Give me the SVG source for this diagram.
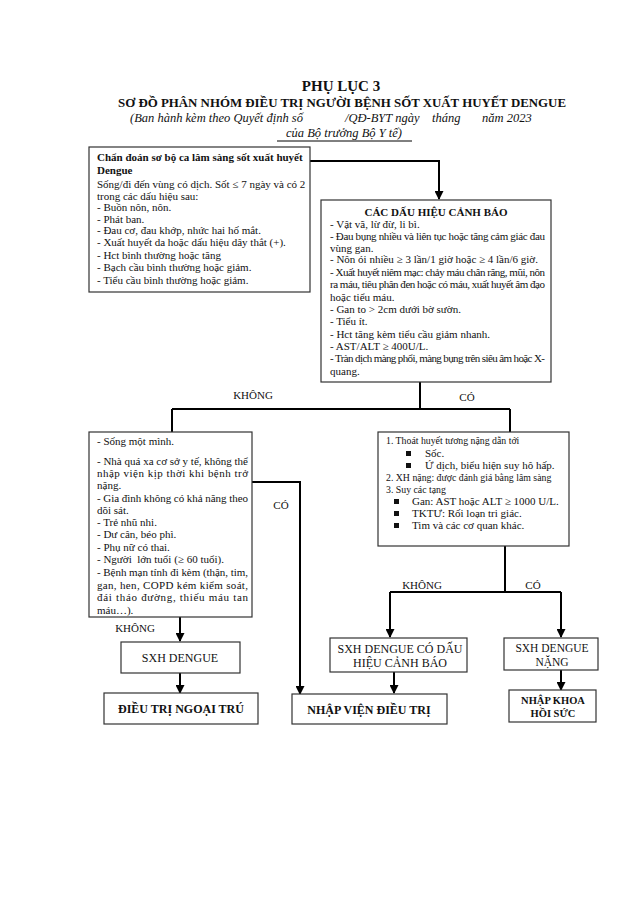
<svg xmlns="http://www.w3.org/2000/svg" width="638" height="902" viewBox="0 0 638 902">
<defs>
<marker id="ah" markerWidth="9" markerHeight="9" refX="8" refY="4.5" orient="auto" markerUnits="userSpaceOnUse">
<path d="M0,0 L9,4.5 L0,9 Z" fill="#000"/>
</marker>
<style>
text{font-family:"Liberation Serif","Times New Roman",serif;fill:#111;}
.t{font-size:11px;}
.m{font-size:12px;}
.s{font-size:9.8px;}
.b{font-weight:bold;}
.c{text-anchor:middle;}
.box{fill:#fff;stroke:#333;stroke-width:1.2;}
.con{fill:none;stroke:#000;stroke-width:2;}
.arr{fill:none;stroke:#000;stroke-width:2;marker-end:url(#ah);}
.lbl{font-size:11px;}
</style>
</defs>
<rect width="638" height="902" fill="#fff"/>
<g id="header">
<text x="341" y="91" class="b c" font-size="15">PHỤ LỤC 3</text>
<text x="342" y="107" class="b c" font-size="13" textLength="448" lengthAdjust="spacingAndGlyphs">SƠ ĐỒ PHÂN NHÓM ĐIỀU TRỊ NGƯỜI BỆNH SỐT XUẤT HUYẾT DENGUE</text>
<text x="130" y="122" font-size="12.5" font-style="italic">(Ban hành kèm theo Quyết định số</text>
<text x="345" y="122" font-size="12.5" font-style="italic">/QĐ-BYT ngày</text>
<text x="432" y="122" font-size="12.5" font-style="italic">tháng</text>
<text x="482" y="122" font-size="12.5" font-style="italic">năm 2023</text>
<text x="344" y="137" class="c" font-size="12.5" font-style="italic">của Bộ trưởng Bộ Y tế)</text>
<line x1="277" y1="141" x2="412" y2="141" stroke="#000" stroke-width="1"/>
</g>
<g id="connectors">
<path class="arr" d="M310,161 H439 V199"/>
<path class="con" d="M420,382 V409"/>
<path class="con" d="M172,409 H510"/>
<path class="con" d="M172,409 V432"/>
<path class="con" d="M510,409 V432"/>
<path class="arr" d="M252,482 H300 V694"/>
<path class="arr" d="M180,617 V641"/>
<path class="arr" d="M180,673 V693"/>
<path class="con" d="M505,546 V592"/>
<path class="con" d="M390,592 H561"/>
<path class="arr" d="M390,592 V637"/>
<path class="arr" d="M561,592 V637"/>
<path class="arr" d="M394,672 V693"/>
<path class="arr" d="M561,670 V690"/>
</g>
<g id="labels">
<text x="253" y="399" class="lbl c">KHÔNG</text>
<text x="467" y="401" class="lbl c">CÓ</text>
<text x="281" y="509" class="lbl c">CÓ</text>
<text x="135" y="632" class="lbl c">KHÔNG</text>
<text x="422" y="589" class="lbl c">KHÔNG</text>
<text x="533" y="589" class="lbl c">CÓ</text>
</g>
<g id="node-chan-doan">
<rect class="box" x="89" y="147" width="221" height="145" stroke-width="1.5"/>
<text x="97" y="161" class="t b">Chẩn đoán sơ bộ ca lâm sàng sốt xuất huyết</text>
<text x="97" y="174" class="t b">Dengue</text>
<text x="97" y="188" class="t">Sống/đi đến vùng có dịch. Sốt ≤ 7 ngày và có 2</text>
<text x="97" y="200" class="t">trong các dấu hiệu sau:</text>
<text x="97" y="211" class="t">- Buồn nôn, nôn.</text>
<text x="97" y="223" class="t">- Phát ban.</text>
<text x="97" y="234" class="t">- Đau cơ, đau khớp, nhức hai hố mắt.</text>
<text x="97" y="246" class="t">- Xuất huyết da hoặc dấu hiệu dây thắt (+).</text>
<text x="97" y="259" class="t">- Hct bình thường hoặc tăng</text>
<text x="97" y="271" class="t">- Bạch cầu bình thường hoặc giảm.</text>
<text x="97" y="284" class="t">- Tiểu cầu bình thường hoặc giảm.</text>
</g>
<g id="node-canh-bao">
<rect class="box" x="321" y="200" width="230" height="182"/>
<text x="436" y="216" class="t b c">CÁC DẤU HIỆU CẢNH BÁO</text>
<text x="330" y="228" class="t">- Vật vã, lừ đừ, li bì.</text>
<text x="330" y="240" class="t" textLength="215" lengthAdjust="spacing">- Đau bụng nhiều và liên tục hoặc tăng cảm giác đau</text>
<text x="330" y="252" class="t">vùng gan.</text>
<text x="330" y="263" class="t">- Nôn ói nhiều ≥ 3 lần/1 giờ hoặc ≥ 4 lần/6 giờ.</text>
<text x="330" y="276" class="t" textLength="215" lengthAdjust="spacing">- Xuất huyết niêm mạc: chảy máu chân răng, mũi, nôn</text>
<text x="330" y="288" class="t" textLength="215" lengthAdjust="spacing">ra máu, tiêu phân đen hoặc có máu, xuất huyết âm đạo</text>
<text x="330" y="301" class="t">hoặc tiểu máu.</text>
<text x="330" y="313" class="t">- Gan to &gt; 2cm dưới bờ sườn.</text>
<text x="330" y="325" class="t">- Tiểu ít.</text>
<text x="330" y="338" class="t">- Hct tăng kèm tiểu cầu giảm nhanh.</text>
<text x="330" y="350" class="t">- AST/ALT ≥ 400U/L.</text>
<text x="330" y="362" class="t" textLength="215" lengthAdjust="spacing">- Tràn dịch màng phổi, màng bụng trên siêu âm hoặc X-</text>
<text x="330" y="375" class="t">quang.</text>
</g>
<g id="node-yeu-to">
<rect class="box" x="89" y="432" width="163" height="185"/>
<text x="97" y="445" class="t">- Sống một mình.</text>
<text x="97" y="465" class="t" textLength="151" lengthAdjust="spacing">- Nhà quá xa cơ sở y tế, không thể</text>
<text x="97" y="477" class="t" textLength="151" lengthAdjust="spacing">nhập viện kịp thời khi bệnh trở</text>
<text x="97" y="489" class="t">nặng.</text>
<text x="97" y="502" class="t" textLength="151" lengthAdjust="spacing">- Gia đình không có khả năng theo</text>
<text x="97" y="514" class="t">dõi sát.</text>
<text x="97" y="526" class="t">- Trẻ nhũ nhi.</text>
<text x="97" y="538" class="t">- Dư cân, béo phì.</text>
<text x="97" y="551" class="t">- Phụ nữ có thai.</text>
<text x="97" y="563" class="t" xml:space="preserve">- Người  lớn tuổi (≥ 60 tuổi).</text>
<text x="97" y="576" class="t" textLength="151" lengthAdjust="spacing">- Bệnh mạn tính đi kèm (thận, tim,</text>
<text x="97" y="589" class="t" textLength="151" lengthAdjust="spacing">gan, hen, COPD kém kiểm soát,</text>
<text x="97" y="601" class="t" textLength="151" lengthAdjust="spacing">đái tháo đường, thiếu máu tan</text>
<text x="97" y="614" class="t">máu…).</text>
</g>
<g id="node-nang">
<rect class="box" x="378" y="432" width="191" height="114"/>
<text x="386" y="444" class="s">1. Thoát huyết tương nặng dẫn tới</text>
<rect x="406" y="451" width="5" height="5" fill="#111"/>
<text x="425" y="457" class="t">Sốc.</text>
<rect x="406" y="463" width="5" height="5" fill="#111"/>
<text x="425" y="469" class="t">Ứ dịch, biểu hiện suy hô hấp.</text>
<text x="386" y="481" class="s">2. XH nặng: được đánh giá bằng lâm sàng</text>
<text x="386" y="493" class="s">3. Suy các tạng</text>
<rect x="394" y="499" width="5" height="5" fill="#111"/>
<text x="412" y="505" class="t">Gan: AST hoặc ALT ≥ 1000 U/L.</text>
<rect x="394" y="511" width="5" height="5" fill="#111"/>
<text x="412" y="517" class="t">TKTƯ: Rối loạn tri giác.</text>
<rect x="394" y="523" width="5" height="5" fill="#111"/>
<text x="412" y="529" class="t">Tim và các cơ quan khác.</text>
</g>
<g id="node-sxh">
<rect class="box" x="121" y="642" width="119" height="31"/>
<text x="180" y="662" class="m c">SXH DENGUE</text>
</g>
<g id="node-ngoai-tru">
<rect class="box" x="104" y="693" width="154" height="31"/>
<text x="181" y="713" class="m b c">ĐIỀU TRỊ NGOẠI TRÚ</text>
</g>
<g id="node-sxh-canh-bao">
<rect class="box" x="330" y="638" width="137" height="34"/>
<text x="400" y="653" class="m c">SXH DENGUE CÓ DẤU</text>
<text x="400" y="667" class="m c">HIỆU CẢNH BÁO</text>
</g>
<g id="node-nhap-vien">
<rect class="box" x="292" y="694" width="155" height="30"/>
<text x="369" y="714" class="m b c">NHẬP VIỆN ĐIỀU TRỊ</text>
</g>
<g id="node-sxh-nang">
<rect class="box" x="504" y="638" width="94" height="32"/>
<text x="552" y="652" class="c" font-size="11.5">SXH DENGUE</text>
<text x="552" y="666" class="c" font-size="11.5">NẶNG</text>
</g>
<g id="node-hoi-suc">
<rect class="box" x="509" y="690" width="87" height="32"/>
<text x="553" y="704" class="b c" font-size="10.5">NHẬP KHOA</text>
<text x="553" y="717" class="b c" font-size="10.5">HỒI SỨC</text>
</g>
</svg>
